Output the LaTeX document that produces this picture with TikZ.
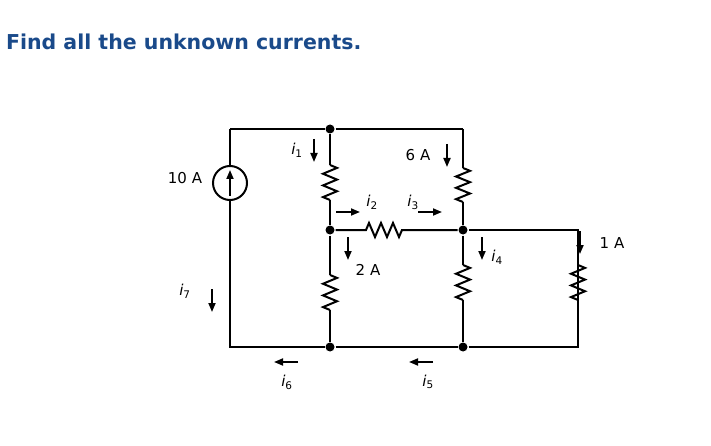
\documentclass[tikz,border=0pt]{standalone}
\usepackage{fontspec}
\setmainfont{DejaVu Sans}
\usetikzlibrary{arrows.meta}
\definecolor{tb}{HTML}{1A4A8A}
\begin{document}
\begin{tikzpicture}[x=1pt,y=-1pt,line width=2pt,
 dot/.style={circle,fill,inner sep=0pt,minimum size=9pt},
 lab/.style={font=\fontsize{15}{17}\selectfont,inner sep=0pt},
 ar/.style={-{Triangle[length=9pt,width=7pt]},line width=1.8pt}]
\useasboundingbox (0,0) rectangle (711,446);
\newcommand\ci[1]{\textit{i}\textsubscript{#1}}
\node[anchor=west,text=tb,font=\bfseries\fontsize{20.5}{23}\selectfont,inner sep=0pt] (t) at (5,42) {Find all the unknown currents.};
% nodes
\node[dot] (a) at (330,129) {};
\node[dot] (b) at (330,230) {};
\node[dot] (c) at (463,230) {};
\node[dot] (d) at (330,347) {};
\node[dot] (e) at (463,347) {};
\coordinate (tl) at (230,129); \coordinate (tr) at (463,129);
\coordinate (bl) at (230,347); \coordinate (rt) at (578,230); \coordinate (rb) at (578,347);
\node[circle,draw,minimum size=34pt,inner sep=0pt] (s) at (230,183) {};
\draw[ar] (230,196) -- (230,170);
\draw (tl) -- (a) -- (tr);
\draw (tl) -- (s.north); \draw (s.south) -- (bl) -- (d) -- (e) -- (rb) -- (rt) -- (c);
\foreach \x/\ya/\yb in {330/165/200, 463/168/202, 330/275/310, 463/265/300, 578/265/300}{
  \pgfmathsetmacro\h{(\yb-\ya)/6}
  \draw[line join=miter] (\x,\ya) -- ++(7,\h/2) -- ++(-14,\h) -- ++(14,\h) -- ++(-14,\h) -- ++(14,\h) -- ++(-14,\h) -- ++(7,\h/2);
}
\draw (a) -- (330,165); \draw (330,200) -- (b) -- (330,275); \draw (330,310) -- (d);
\draw (tr) -- (463,168); \draw (463,202) -- (c) -- (463,265); \draw (463,300) -- (e);
\draw (rt) -- (578,265); \draw (578,300) -- (rb);
\draw (b) -- (366,230) -- ++(3,-7) -- ++(6,14) -- ++(6,-14) -- ++(6,14) -- ++(6,-14) -- ++(6,14) -- ++(3,-7) -- (c);
% labels
\node[lab] (l1) at (297,150) {\ci1}; \draw[ar] (314,139) -- (314,162);
\node[lab] (l6a) at (418,155) {6 A}; \draw[ar] (447,144) -- (447,167);
\node[lab] (l10) at (185,178) {10 A};
\node[lab] (l2) at (372,202) {\ci2}; \draw[ar] (336,212) -- (360,212);
\node[lab] (l3) at (413,202) {\ci3}; \draw[ar] (418,212) -- (442,212);
\draw[ar] (348,237) -- (348,260); \node[lab] (l2a) at (368,270) {2 A};
\draw[ar] (482,237) -- (482,260); \node[lab] (l4) at (497,257) {\ci4};
\draw[ar] (580,231) -- (580,254); \node[lab] (l1a) at (612,243) {1 A};
\node[lab] (l7) at (185,291) {\ci7}; \draw[ar] (212,289) -- (212,312);
\draw[ar] (298,362) -- (274,362); \node[lab] (l6) at (287,382) {\ci6};
\draw[ar] (433,362) -- (409,362); \node[lab] (l5) at (428,382) {\ci5};
\end{tikzpicture}
\end{document}
